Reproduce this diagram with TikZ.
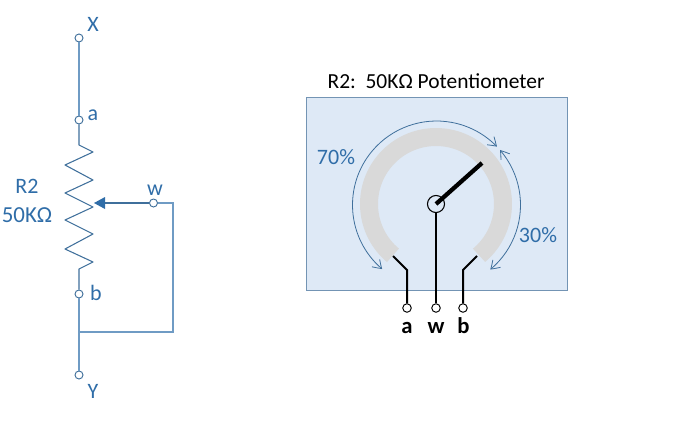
\documentclass[tikz,border=0pt]{standalone}
\usepackage{fontspec}
\setmainfont{Carlito}
\usetikzlibrary{arrows.meta,bending,calc}
\definecolor{wirelight}{HTML}{6F9BC4}
\definecolor{wiredark}{HTML}{3F6F9B}
\definecolor{labelblue}{HTML}{2F6DA8}
\definecolor{panelfill}{HTML}{DEE9F6}
\definecolor{panelline}{HTML}{7394B4}
\definecolor{dialgray}{HTML}{D9D9D9}
\tikzset{
  termblue/.style={circle,draw=wiredark,fill=white,line width=0.7pt,minimum size=6pt,inner sep=0pt},
  termblack/.style={circle,draw=black,fill=white,line width=0.7pt,minimum size=6.4pt,inner sep=0pt},
  lab/.style={text=labelblue,font=\fontsize{16.5}{18}\selectfont,inner sep=0pt},
  blk/.style={text=black,font=\fontsize{17}{19}\selectfont\bfseries,inner sep=0pt,anchor=base},
  wire/.style={draw=wirelight,line width=1pt},
  res/.style={draw=wiredark,line width=0.8pt,line join=round},
  pot/.style={draw=black,line width=1.5pt},
  swing/.style={draw=wiredark,line width=0.6pt,{Straight Barb[length=6pt,width=8pt,bend]}-{Straight Barb[length=6pt,width=8pt,bend]}}
}
\begin{document}
\begin{tikzpicture}[x=0.75pt,y=-0.75pt]
\useasboundingbox (0,0) rectangle (680,429);
% schematic
\node[termblue] (X) at (79,38) {};
\node[termblue] (A) at (79,120) {};
\node[termblue] (B) at (79,294) {};
\node[termblue] (Y) at (79,375) {};
\node[termblue] (W) at (153.500,203) {};
\coordinate (rtop) at (79,145);
\coordinate (rbot) at (79,269);
\coordinate (junc) at (79,332);
\coordinate (wcor) at (173,203);
\coordinate (wbot) at (173,332);
\coordinate (tip) at (94,203);
\draw[wire] (X) -- (A);
\draw[res] (A) -- (rtop) -- (93,152) -- (65,165) -- (93,180) -- (65,193) -- (93,207) -- (65,220) -- (93,234) -- (65,249) -- (93,262) -- (rbot) -- (B);
\draw[wire] (B) -- (Y);
\draw[wire] (W) -- (wcor) -- (wbot) -- (junc);
\draw[draw=wiredark,line width=1pt] (W) -- (105,203);
\fill[labelblue] (tip) -- (105,197) -- (105,209) -- cycle;
\node[lab] (lx) at (93,24) {X};
\node[lab] (la) at (93,115) {a};
\node[lab] (lb) at (96,293) {b};
\node[lab] (ly) at (93,391) {Y};
\node[lab] (lw) at (155,190) {w};
\node[lab] (r2a) at (27,186) {R2};
\node[lab,font=\fontsize{17.2}{19}\selectfont] (r2b) at (27,215) {50KΩ};
% potentiometer
\node[text=black,font=\fontsize{16.1}{18}\selectfont,inner sep=0pt] (title) at (436,81) {R2:\ \ 50KΩ Potentiometer};
\draw[draw=panelline,fill=panelfill,line width=0.7pt] (306,97) rectangle (567,290);
\coordinate (c) at (436,204);
\coordinate (sc) at (436.500,205);
\draw[dialgray,line width=13.5pt] ($(c)+(130:67)$) arc[start angle=130,end angle=410,radius=67];
\draw[swing] ($(sc)+(130.300:84)$) arc[start angle=130.300,end angle=316,radius=84];
\draw[swing] ($(sc)+(-40.900:84)$) arc[start angle=-40.900,end angle=50.200,radius=84];
\node[circle,draw=black,line width=0.8pt,minimum size=12.8pt,inner sep=0pt] (hub) at (c) {};
\node[termblack] (ta) at (407,308) {};
\node[termblack] (tw) at (436,308) {};
\node[termblack] (tb) at (463,308) {};
\coordinate (ea) at (393,256);
\coordinate (ka) at (407,270);
\coordinate (eb) at (477,256);
\coordinate (kb) at (463,270);
\coordinate (htip) at (482,163);
\draw[pot] (ea) -- (ka) -- (ta);
\draw[pot] (hub) -- (tw);
\draw[pot] (eb) -- (kb) -- (tb);
\draw[draw=black,line width=3.2pt] (c) -- (htip);
\node[lab] (p70) at (336,157) {70\%};
\node[lab] (p30) at (538,235) {30\%};
\node[blk] (na) at (407,333) {a};
\node[blk] (nw) at (436,333) {w};
\node[blk] (nb) at (463.500,333) {b};
\end{tikzpicture}
\end{document}
